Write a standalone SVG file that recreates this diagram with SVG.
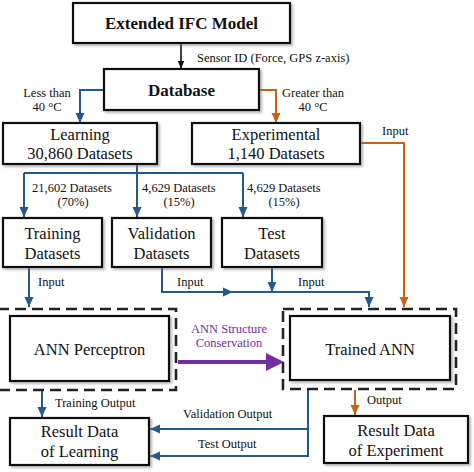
<svg xmlns="http://www.w3.org/2000/svg" width="474" height="472" viewBox="0 0 474 472">
<style>
.box{fill:#fff;stroke:#111;stroke-width:2.2;filter:url(#sh)}
.dash{fill:none;stroke:#222;stroke-width:2.6;stroke-dasharray:11 6}
.t{font-family:"Liberation Serif","Times New Roman",serif;fill:#111}
.big{font-size:16.5px;text-anchor:middle}
.bold{font-size:17px;font-weight:bold;text-anchor:middle}
.lab{font-size:12.5px}
.mid{text-anchor:middle}
.b{fill:none;stroke:#24598a;stroke-width:2}
.o{fill:none;stroke:#c8601a;stroke-width:2}
.k{fill:none;stroke:#111;stroke-width:1.6}
</style>
<defs>
<filter id="sh" x="-10%" y="-10%" width="120%" height="130%"><feDropShadow dx="2" dy="2" stdDeviation="1" flood-color="#777" flood-opacity="0.5"/></filter>
<marker id="ab" markerUnits="userSpaceOnUse" markerWidth="10" markerHeight="10" viewBox="0 0 10 10" refX="10" refY="5" orient="auto"><path d="M0,0.5 L10,5 L0,9.5 z" fill="#24598a"/></marker>
<marker id="ao" markerUnits="userSpaceOnUse" markerWidth="10" markerHeight="10" viewBox="0 0 10 10" refX="10" refY="5" orient="auto"><path d="M0,0.5 L10,5 L0,9.5 z" fill="#c8601a"/></marker>
<marker id="ak" markerUnits="userSpaceOnUse" markerWidth="8" markerHeight="8" viewBox="0 0 10 10" refX="10" refY="5" orient="auto"><path d="M0,1 L10,5 L0,9 z" fill="#111"/></marker>
</defs>

<g id="connectors">
<path class="k" d="M181,43 V69" marker-end="url(#ak)"/>
<path class="b" d="M104,90 H80 V123" marker-end="url(#ab)"/>
<path class="o" d="M259,90 H276 V123" marker-end="url(#ao)"/>
<path class="o" d="M360,143 H404 V307" marker-end="url(#ao)"/>
<path class="b" d="M24,173 H243"/>
<path class="b" d="M137,164 V217" marker-end="url(#ab)"/>
<path class="b" d="M24,173 V217" marker-end="url(#ab)"/>
<path class="b" d="M243,173 V217" marker-end="url(#ab)"/>
<path class="b" d="M29,267 V307" marker-end="url(#ab)"/>
<path class="b" d="M162,267 V292 H369 V307" marker-end="url(#ab)"/>
<path class="b" d="M162,292 H233" marker-end="url(#ab)"/>
<path class="b" d="M272,267 V292" marker-end="url(#ab)"/>
<path d="M178,362 H268" stroke="#7030a0" stroke-width="4" fill="none"/>
<path d="M266,353 L284,362 L266,371 z" fill="#7030a0"/>
<path class="b" d="M42,390 V417" marker-end="url(#ab)"/>
<path class="b" d="M308,390 V456 H150" marker-end="url(#ab)"/>
<path class="b" d="M308,429 H150" marker-end="url(#ab)"/>
<path class="o" d="M355,390 V415" marker-end="url(#ao)"/>
</g>

<g id="labels">
<text class="t lab" x="197" y="62">Sensor ID (Force, GPS z-axis)</text>
<text class="t lab mid" x="47" y="97">Less than</text>
<text class="t lab mid" x="47" y="111">40 °C</text>
<text class="t lab mid" x="313" y="97">Greater than</text>
<text class="t lab mid" x="313" y="111">40 °C</text>
<text class="t lab" x="382" y="135">Input</text>
<text class="t lab" x="32" y="192">21,602 Datasets</text>
<text class="t lab mid" x="73" y="206">(70%)</text>
<text class="t lab" x="142" y="192">4,629 Datasets</text>
<text class="t lab mid" x="179" y="206">(15%)</text>
<text class="t lab" x="247" y="192">4,629 Datasets</text>
<text class="t lab mid" x="284" y="206">(15%)</text>
<text class="t lab" x="38" y="286">Input</text>
<text class="t lab" x="177" y="286">Input</text>
<text class="t lab" x="298" y="286">Input</text>
<text class="t lab mid" x="229" y="333" style="fill:#7030a0">ANN Structure</text>
<text class="t lab mid" x="229" y="347" style="fill:#7030a0">Conservation</text>
<text class="t lab" x="55" y="407">Training Output</text>
<text class="t lab" x="183" y="418">Validation Output</text>
<text class="t lab" x="198" y="448">Test Output</text>
<text class="t lab" x="367" y="404">Output</text>
</g>

<g id="extended">
<rect class="box" x="73" y="3" width="217" height="40"/>
<text class="t bold" x="181.5" y="29">Extended IFC Model</text>
</g>
<g id="database">
<rect class="box" x="104" y="69" width="155" height="41"/>
<text class="t bold" x="181.5" y="96">Database</text>
</g>
<g id="learning">
<rect class="box" x="3" y="123" width="154" height="41"/>
<text class="t big" x="80" y="140">Learning</text>
<text class="t big" x="80" y="159">30,860 Datasets</text>
</g>
<g id="experimental">
<rect class="box" x="192" y="123" width="168" height="41"/>
<text class="t big" x="276" y="140">Experimental</text>
<text class="t big" x="276" y="159">1,140 Datasets</text>
</g>
<g id="training">
<rect class="box" x="3" y="218" width="99" height="49"/>
<text class="t big" x="52.5" y="239">Training</text>
<text class="t big" x="52.5" y="259">Datasets</text>
</g>
<g id="validation">
<rect class="box" x="112" y="218" width="99" height="49"/>
<text class="t big" x="161.5" y="239">Validation</text>
<text class="t big" x="161.5" y="259">Datasets</text>
</g>
<g id="test">
<rect class="box" x="222" y="218" width="100" height="49"/>
<text class="t big" x="272" y="239">Test</text>
<text class="t big" x="272" y="259">Datasets</text>
</g>
<g id="perceptron">
<rect class="dash" x="-2" y="309" width="178" height="81"/>
<rect class="box" x="10" y="316" width="159" height="65"/>
<text class="t big" x="89.5" y="355">ANN Perceptron</text>
</g>
<g id="trained">
<rect class="dash" x="283" y="309" width="173" height="80"/>
<rect class="box" x="290" y="316" width="160" height="64"/>
<text class="t big" x="370" y="355">Trained ANN</text>
</g>
<g id="resultLearning">
<rect class="box" x="10" y="418" width="139" height="47"/>
<text class="t big" x="79.5" y="437">Result Data</text>
<text class="t big" x="79.5" y="457">of Learning</text>
</g>
<g id="resultExperiment">
<rect class="box" x="324" y="416" width="144" height="47"/>
<text class="t big" x="396" y="436">Result Data</text>
<text class="t big" x="396" y="456">of Experiment</text>
</g>
</svg>
